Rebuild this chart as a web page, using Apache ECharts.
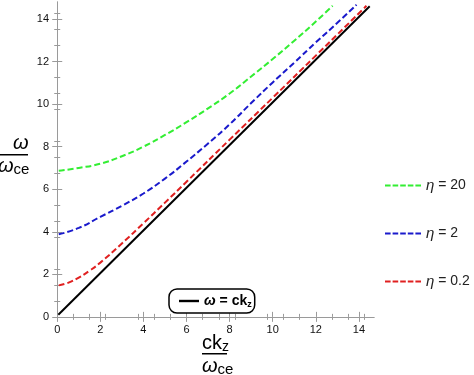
<!DOCTYPE html>
<html><head><meta charset="utf-8">
<script src="https://cdn.jsdelivr.net/npm/echarts@6/dist/echarts.min.js"></script>
<style>html,body{margin:0;padding:0;background:#fff;}#c{width:474px;height:375px;}</style>
</head><body><div id="c"></div>
<script>
const xTicks = [0, 2, 4, 6, 8, 10, 12, 14];
const yTicks = [0, 2, 4, 6, 8, 10, 12, 14];
const seriesNames = ['η = 20', 'η = 2', 'η = 0.2', 'ω = ck_z'];
const eta20 = [[0.07,6.87],[1,7.0],[2,7.2],[3,7.55],[4,8.0],[5,8.55],[6,9.15],[7,9.8],[8,10.5],[9,11.3],[10,12.12],[11,12.98],[12,13.88],[12.78,14.62]];
const eta2 = [[0.07,3.88],[1,4.18],[2,4.7],[3,5.22],[4,5.8],[5,6.5],[6,7.3],[7,8.15],[8,9.05],[9,10.05],[10,11.02],[11,11.95],[12,12.9],[13,13.82],[13.89,14.67]];
const eta02 = [[0.07,1.48],[0.5,1.6],[1,1.85],[1.5,2.17],[2,2.55],[3,3.45],[4,4.4],[5,5.37],[6,6.35],[8,8.33],[10,10.3],[12,12.28],[14.35,14.62]];
const lightLine = [[0.05,0.1],[14.5,14.6]];

const XMIN = -0.15, XMAX = 14.7, YMIN = -0.1, YMAX = 14.8;
const frameColor = '#9a9a9a';
function baseAxis(showLabel){
  return {
    type:'value', min:XMIN, max:XMAX,
    axisLine:{show:true, lineStyle:{color:frameColor, width:1}},
    axisTick:{show:true, inside:true, length:5, lineStyle:{color:frameColor}, customValues: xTicks},
    minorTick:{show:true, splitNumber:4, length:3, lineStyle:{color:frameColor}},
    splitLine:{show:false},
    axisLabel:{show:showLabel, color:'#111', fontSize:11, fontFamily:'Liberation Sans', margin:5, customValues: xTicks}
  };
}
const xa0 = Object.assign(baseAxis(true), {position:'bottom'});
const xa1 = Object.assign(baseAxis(false), {position:'top'});
const ya0 = Object.assign(baseAxis(true), {position:'left', min:YMIN, max:YMAX});
ya0.axisTick.customValues = yTicks; ya0.axisLabel.customValues = yTicks;
const ya1 = Object.assign(baseAxis(false), {position:'right', min:YMIN, max:YMAX});
ya1.axisTick.customValues = yTicks;

const dashIcon = 'path://M0,0h5.6v2h-5.6zM7.6,0h5.6v2h-5.6zM15.2,0h5.6v2h-5.6zM22.8,0h5.6v2h-5.6zM30.4,0h5.6v2h-5.6z';
const solidIcon = 'path://M0,0h20v2.4h-20z';

function dashed(name, data, color){
  return {name, type:'line', data, smooth:true, symbol:'none', clip:true,
    lineStyle:{color, width:2, type:[6,3]}, itemStyle:{color}};
}
const chart = echarts.init(document.getElementById('c'), null, {renderer:'canvas'});
chart.setOption({
  animation:false,
  backgroundColor:'#fff',
  grid:{left:54, right:100, top:2, bottom:56},
  xAxis:[xa0, xa1],
  yAxis:[ya0, ya1],
  legend:[
    {data:seriesNames.slice(0,3).map(n=>({name:n, icon:dashIcon})), orient:'vertical', left:380, top:173, itemWidth:36, itemHeight:2, itemGap:33,
     formatter: n => '{e|η}{t|' + n.slice(1) + '}',
     textStyle:{fontSize:14, color:'#222', fontFamily:'Liberation Sans',
       rich:{e:{fontSize:15, fontStyle:'italic', fontFamily:'Liberation Sans', color:'#222'}, t:{fontSize:14, fontFamily:'Liberation Sans', color:'#222'}}}, selectedMode:false},
    {data:[{name:seriesNames[3], icon:solidIcon}], left:169, top:289, itemWidth:20, itemHeight:2.4, itemGap:6,
     borderColor:'#000', borderWidth:1.5, borderRadius:8, padding:[5,3,4,10], backgroundColor:'#fff',
     formatter: () => '{w|ω}{b| = ck}{s|z}',
     textStyle:{fontSize:14, color:'#000', fontFamily:'Liberation Sans', fontWeight:'bold',
       rich:{w:{fontSize:14, fontWeight:'bold', fontStyle:'italic', fontFamily:'Liberation Sans'}, b:{fontSize:14, fontWeight:'bold', fontFamily:'Liberation Sans'}, s:{fontSize:9, fontWeight:'bold', fontFamily:'Liberation Sans', verticalAlign:'bottom', padding:[7,0,0,0]}}},
     selectedMode:false}
  ],
  graphic:[
    {type:'text', left:13, top:133, style:{text:'ω', font:'italic 20px "Liberation Sans"', fill:'#000'}},
    {type:'rect', left:0, top:154, shape:{width:28, height:1.5}, style:{fill:'#000'}},
    {type:'text', left:-2, top:156, style:{text:'{a|ω}{b|ce}', rich:{a:{font:'italic 20px "Liberation Sans"', fill:'#000'}, b:{font:'15px "Liberation Sans"', fill:'#000', padding:[8,0,0,0]}}}},
    {type:'text', left:202, top:333, style:{text:'{a|ck}{b|z}', rich:{a:{font:'20px "Liberation Sans"', fill:'#000'}, b:{font:'14px "Liberation Sans"', fill:'#000', padding:[8,0,0,0]}}}},
    {type:'rect', left:202, top:353, shape:{width:25, height:1.5}, style:{fill:'#000'}},
    {type:'text', left:202, top:356, style:{text:'{a|ω}{b|ce}', rich:{a:{font:'italic 20px "Liberation Sans"', fill:'#000'}, b:{font:'15px "Liberation Sans"', fill:'#000', padding:[8,0,0,0]}}}}
  ],
  series:[
    dashed(seriesNames[0], eta20, '#33ee33'),
    dashed(seriesNames[1], eta2, '#1a1acc'),
    dashed(seriesNames[2], eta02, '#e02020'),
    {name:seriesNames[3], type:'line', data:lightLine, symbol:'none', lineStyle:{color:'#000', width:2}, itemStyle:{color:'#000'}, z:1}
  ]
});
</script></body></html>
